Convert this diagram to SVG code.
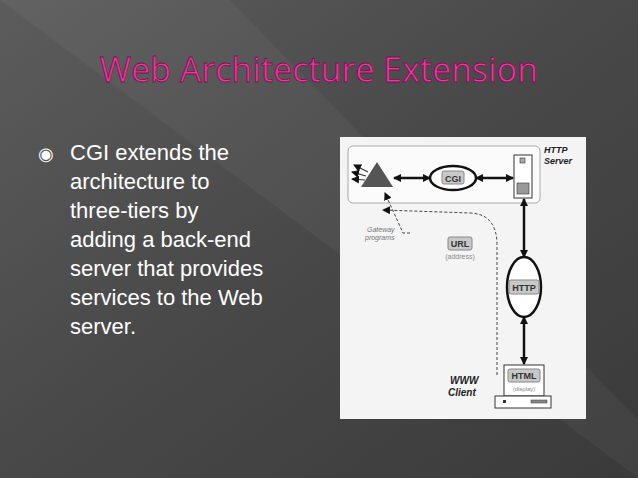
<svg xmlns="http://www.w3.org/2000/svg" width="638" height="478" viewBox="0 0 638 478">
<defs>
<linearGradient id="bg" x1="0" y1="0" x2="1" y2="1"><stop offset="0" stop-color="#5c5c5c"/><stop offset="0.5" stop-color="#484848"/><stop offset="1" stop-color="#3a3a3a"/></linearGradient>
<marker id="ah" markerWidth="8" markerHeight="8" refX="7" refY="4" orient="auto-start-reverse" markerUnits="userSpaceOnUse"><path d="M0,0L8,4L0,8z" fill="#111"/></marker>
<style>
.t{font-family:"Liberation Sans",Arial,sans-serif}
.b{fill:#fff;font-size:22px}
.l{stroke:#111;stroke-width:2.5;fill:none}
.d{stroke:#444;stroke-width:1;stroke-dasharray:3,2;fill:none}
.lab{fill:#c8c8c8;stroke:#888;stroke-width:1}
</style>
</defs>
<rect width="638" height="478" fill="url(#bg)"/>
<path d="M0,0 L230,0 L638,420 L638,478 Z" fill="#fff" opacity="0.04"/>
<text x="319" y="82" text-anchor="middle" font-family="'Open Sans','DejaVu Sans',sans-serif" font-size="34" fill="#e83a9c" stroke="#7a1050" stroke-width="0.8">Web Architecture Extension</text>
<text class="t" x="38" y="160" font-size="18" fill="#fff">◉</text>
<g class="t b">
<text x="70" y="160">CGI extends the</text>
<text x="70" y="189">architecture to</text>
<text x="70" y="218">three-tiers by</text>
<text x="70" y="247">adding a back-end</text>
<text x="70" y="276">server that provides</text>
<text x="70" y="305">services to the Web</text>
<text x="70" y="334">server.</text>
</g>
<rect x="340" y="137" width="246" height="282" fill="#f4f4f4"/>
<g id="serverbox"><rect x="348" y="146" width="192" height="57" rx="5" fill="#fbfbfb" stroke="#aaa" stroke-width="1"/></g>
<g id="gateway"><path d="M377,162 L393,187 L361,187 Z" fill="#555"/></g>
<g id="cgi"><ellipse cx="453" cy="178" rx="23" ry="12" fill="#fff" stroke="#111" stroke-width="2.5"/><rect x="442" y="171" width="22" height="13" rx="2" class="lab"/><text class="t" x="453" y="181.5" font-size="9" font-weight="bold" text-anchor="middle" fill="#333">CGI</text></g>
<g id="server"><rect x="514" y="155" width="18" height="43" fill="#fff" stroke="#333" stroke-width="1"/><rect x="520" y="158" width="5" height="5" fill="#aaa" stroke="#333" stroke-width="0.6"/><rect x="517" y="183" width="12" height="11" fill="#999" stroke="#333" stroke-width="0.6"/>
<text class="t" x="544" y="153" font-size="9" font-weight="bold" font-style="italic" fill="#222">HTTP</text><text class="t" x="544" y="164" font-size="9" font-weight="bold" font-style="italic" fill="#222">Server</text></g>
<g id="http"><ellipse cx="524" cy="287" rx="17" ry="30" fill="#fff" stroke="#111" stroke-width="2.5"/><rect x="509" y="280" width="30" height="14" rx="2" class="lab"/><text class="t" x="524" y="290.5" font-size="9" font-weight="bold" text-anchor="middle" fill="#333">HTTP</text></g>
<g id="client"><rect x="504" y="365" width="40" height="31" fill="#fff" stroke="#333" stroke-width="1"/><rect x="508" y="369" width="32" height="13" rx="2" class="lab"/><text class="t" x="524" y="379" font-size="9" font-weight="bold" text-anchor="middle" fill="#333">HTML</text><text class="t" x="524" y="391" font-size="6" text-anchor="middle" fill="#888">(display)</text>
<rect x="495" y="396" width="56" height="12" fill="#fff" stroke="#333" stroke-width="1"/><rect x="503" y="400" width="3" height="3" fill="#333"/><rect x="531" y="400" width="16" height="3" fill="#888" stroke="#333" stroke-width="0.5"/>
<text class="t" x="450" y="384" font-size="10" font-weight="bold" font-style="italic" fill="#222">WWW</text><text class="t" x="448" y="396" font-size="10" font-weight="bold" font-style="italic" fill="#222">Client</text></g>
<g id="url"><rect x="448" y="237" width="24" height="13" rx="2" class="lab"/><text class="t" x="460" y="247" font-size="9" font-weight="bold" text-anchor="middle" fill="#333">URL</text><text class="t" x="460" y="259" font-size="7" text-anchor="middle" fill="#888">(address)</text></g>
<g id="gwlabel"><text class="t" x="367" y="232" font-size="7" font-style="italic" fill="#777">Gateway</text><text class="t" x="365" y="240" font-size="7" font-style="italic" fill="#777">programs</text></g>
<g id="connectors">
<line x1="394" y1="178" x2="430" y2="178" class="l" marker-start="url(#ah)" marker-end="url(#ah)"/>
<line x1="476" y1="178" x2="513" y2="178" class="l" marker-start="url(#ah)" marker-end="url(#ah)"/>
<line x1="524" y1="199" x2="524" y2="257" class="l" marker-start="url(#ah)" marker-end="url(#ah)"/>
<line x1="524" y1="317" x2="524" y2="364" class="l" marker-start="url(#ah)" marker-end="url(#ah)"/>
<path d="M497,375 L497,245 Q497,214 470,213 L383,210" class="d" marker-end="url(#ah)"/>
<path d="M410,233 L403,233 L385,193" class="d" marker-end="url(#ah)"/>
<g stroke="#333" stroke-width="1.2"><line x1="368" y1="172" x2="354" y2="165" marker-end="url(#ah)"/><line x1="366" y1="176" x2="352" y2="172" marker-end="url(#ah)"/><line x1="365" y1="180" x2="352" y2="179" marker-end="url(#ah)"/></g>
</g>
</svg>
